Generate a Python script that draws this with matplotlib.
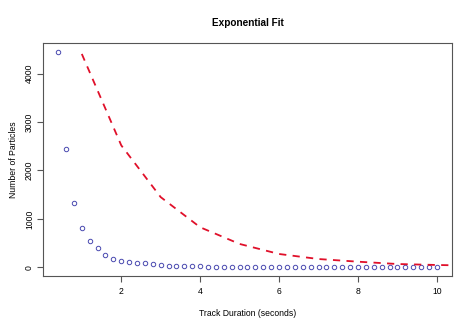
import matplotlib
matplotlib.use("Agg")
import matplotlib.pyplot as plt

plt.rcParams['font.family'] = ['Liberation Sans', 'DejaVu Sans']

# observed counts, every 0.2 s from 0.4 to 10.0
duration = [0.4 + 0.2 * i for i in range(49)]
particles = [4450, 2450, 1325, 805, 545, 400, 265, 180, 140, 118,
             85, 90, 62, 50, 36, 30, 28, 22, 20, 18,
             16, 15, 14, 13, 12, 12, 11, 10, 10, 9,
             9, 8, 8, 8, 7, 7, 7, 6, 6, 6,
             6, 5, 5, 5, 5, 5, 5, 4, 4]

# fitted exponential curve
fit_x = [1, 2, 3, 4, 5, 6, 7, 8, 9, 10, 11]
fit_y = [4404, 2518, 1450, 828, 484, 277, 173, 118, 70, 50, 35]

fig = plt.figure(figsize=(4.74, 3.29), dpi=100)
ax = fig.add_axes([0.0907, 0.161, 0.8629, 0.708])

ax.plot(duration, particles, 'o', mfc='none', mec='#4a4ab0', ms=3.2, mew=0.7)
ax.plot(fit_x, fit_y, color='#e0102a', lw=1.3, ls=(0, (4, 3.5)))

ax.set_xlim(0.016, 10.384)
ax.set_ylim(-178, 4628)
ax.set_xticks([2, 4, 6, 8, 10])
ax.set_yticks([0, 1000, 2000, 3000, 4000])
ax.tick_params(labelsize=6.2, length=4, width=0.8, color='#555555')
ax.tick_params(axis='x', pad=4)
ax.tick_params(axis='y', pad=2.5)
for lbl in ax.get_yticklabels():
    lbl.set_rotation(90)
    lbl.set_va('center')
for s in ax.spines.values():
    s.set_color('#555555')
    s.set_linewidth(0.8)

ax.set_title("Exponential Fit", fontsize=7.2, fontweight='bold', pad=12)
ax.set_xlabel("Track Duration (seconds)", fontsize=6.2, labelpad=9)
ax.set_ylabel("Number of Particles", fontsize=6.2, labelpad=5)

fig.savefig("out.png", dpi=100)
